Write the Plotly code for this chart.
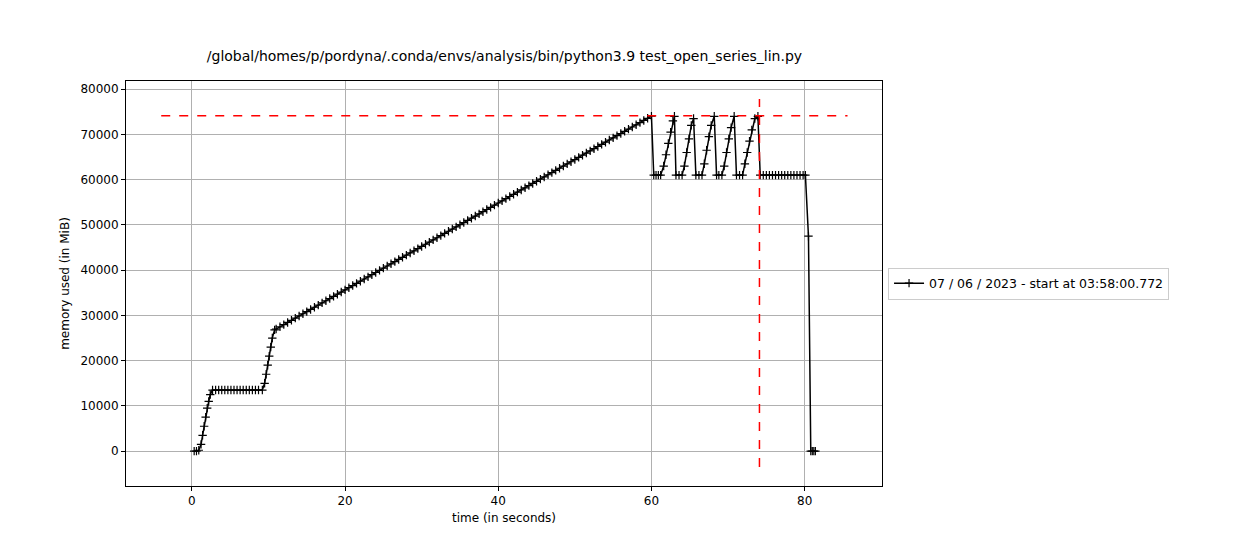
"""mprof-style memory usage plot"""

import plotly.graph_objects as go

# Samples (time in s, memory in MiB).
time_s = [
    0.3, 0.6, 0.9, 1.2, 1.4, 1.6, 1.8, 2.0, 2.2, 2.4, 2.7,
    3.1, 3.5, 3.9, 4.3, 4.7, 5.1, 5.5, 5.9, 6.3, 6.7, 7.1, 7.5, 7.9, 8.3, 8.7, 9.2,
    9.5, 9.7, 9.9, 10.1, 10.3, 10.5, 10.8,
    11.0, 11.5, 12.0, 12.5, 13.0, 13.5, 14.0, 14.5, 15.0, 15.5, 16.0, 16.5,
    17.0, 17.5, 18.0, 18.5, 19.0, 19.5, 20.0, 20.5, 21.0, 21.5, 22.0, 22.5,
    23.0, 23.5, 24.0, 24.5, 25.0, 25.5, 26.0, 26.5, 27.0, 27.5, 28.0, 28.5,
    29.0, 29.5, 30.0, 30.5, 31.0, 31.5, 32.0, 32.5, 33.0, 33.5, 34.0, 34.5,
    35.0, 35.5, 36.0, 36.5, 37.0, 37.5, 38.0, 38.5, 39.0, 39.5, 40.0, 40.5,
    41.0, 41.5, 42.0, 42.5, 43.0, 43.5, 44.0, 44.5, 45.0, 45.5, 46.0, 46.5,
    47.0, 47.5, 48.0, 48.5, 49.0, 49.5, 50.0, 50.5, 51.0, 51.5, 52.0, 52.5,
    53.0, 53.5, 54.0, 54.5, 55.0, 55.5, 56.0, 56.5, 57.0, 57.5, 58.0, 58.5,
    59.0, 59.5, 60.0,
    60.3, 60.6, 60.9, 61.2, 61.6, 61.9, 62.2, 62.5, 62.8, 63.0,
    63.2, 63.6, 64.0, 64.3, 64.6, 64.9, 65.2, 65.5,
    65.8, 66.2, 66.6, 66.9, 67.2, 67.5, 67.8, 68.2,
    68.5, 68.8, 69.2, 69.5, 69.8, 70.1, 70.4, 70.8,
    71.1, 71.5, 71.9, 72.2, 72.5, 72.8, 73.1, 73.5, 73.9,
    74.2, 74.6, 75.0, 75.4, 75.8, 76.2, 76.6, 77.0, 77.4, 77.8, 78.2, 78.6,
    79.0, 79.4, 79.8, 80.1, 80.5, 80.8, 81.0, 81.2, 81.4,
]
memory_mib = [
    0, 0, 200, 1500, 3500, 5500, 7500, 9500, 11000, 12500, 13500,
    13500, 13500, 13500, 13500, 13500, 13500, 13500, 13500, 13500, 13500,
    13500, 13500, 13500, 13500, 13500, 13500,
    15000, 17000, 19000, 21000, 23000, 25000, 26800,
    27000, 27480, 27960, 28440, 28920, 29400, 29880, 30360, 30840, 31320,
    31800, 32280, 32760, 33240, 33720, 34200, 34680, 35160, 35640, 36120,
    36600, 37080, 37560, 38040, 38520, 39000, 39480, 39960, 40440, 40920,
    41400, 41880, 42360, 42840, 43320, 43800, 44280, 44760, 45240, 45720,
    46200, 46680, 47160, 47640, 48120, 48600, 49080, 49560, 50040, 50520,
    51000, 51480, 51960, 52440, 52920, 53400, 53880, 54360, 54840, 55320,
    55800, 56280, 56760, 57240, 57720, 58200, 58680, 59160, 59640, 60120,
    60600, 61080, 61560, 62040, 62520, 63000, 63480, 63960, 64440, 64920,
    65400, 65880, 66360, 66840, 67320, 67800, 68280, 68760, 69240, 69720,
    70200, 70680, 71160, 71640, 72120, 72600, 73080, 73560, 74040,
    61000, 61000, 61000, 61000, 63000, 65500, 68000, 70500, 73000, 74000,
    61000, 61000, 61000, 63000, 66000, 69000, 72000, 73500,
    61000, 61000, 61000, 63500, 66500, 69500, 72000, 74000,
    61000, 61000, 61000, 63000, 66000, 69000, 71500, 74000,
    61000, 61000, 61000, 63500, 66000, 68500, 71000, 73500, 74000,
    61000, 61000, 61000, 61000, 61000, 61000, 61000, 61000, 61000, 61000,
    61000, 61000, 61000, 61000, 61000, 61000, 47500, 0, 0, 0, 0,
]

peak_mem = 74100
peak_time = 74.1
series_name = "07 / 06 / 2023 - start at 03:58:00.772"
title = "/global/homes/p/pordyna/.conda/envs/analysis/bin/python3.9 test_open_series_lin.py"

fig = go.Figure()
fig.add_trace(go.Scatter(
    x=time_s, y=memory_mib, mode="lines+markers", name=series_name,
    line=dict(color="black", width=1.5),
    marker=dict(symbol="cross-thin-open", size=6, line=dict(color="black", width=1.2)),
))
fig.add_trace(go.Scatter(
    x=[-4, 85.6], y=[peak_mem, peak_mem], mode="lines", showlegend=False,
    line=dict(color="#ff0000", width=1.5, dash="dash"), hoverinfo="skip",
))
fig.add_trace(go.Scatter(
    x=[peak_time, peak_time], y=[-3500, 77800], mode="lines", showlegend=False,
    line=dict(color="#ff0000", width=1.5, dash="dash"), hoverinfo="skip",
))

axis_style = dict(
    showgrid=True, gridcolor="#b0b0b0", gridwidth=1, zeroline=False,
    showline=True, linecolor="black", linewidth=1, mirror=True,
    ticks="outside", ticklen=4, tickcolor="black", automargin=False,
    tickfont=dict(size=12), title_font=dict(size=12),
)
fig.update_layout(
    width=1260, height=540, plot_bgcolor="white", paper_bgcolor="white",
    font=dict(family="DejaVu Sans", size=12, color="black"),
    title=dict(text=title, x=0.394, xanchor="center", y=0.92, font=dict(size=14)),
    margin=dict(l=118, r=386, t=73, b=62),
    legend=dict(x=1.008, y=0.5, xanchor="left", yanchor="middle",
                bordercolor="#cccccc", borderwidth=1, font=dict(size=12.5)),
)
fig.update_xaxes(title_text="time (in seconds)", title_standoff=6,
                 range=[-8.6, 90.1], dtick=20, **axis_style)
fig.update_yaxes(title_text="memory used (in MiB)", title_standoff=8,
                 range=[-7700, 81800], dtick=10000, tickformat="d", **axis_style)

fig.write_html("out.html")
